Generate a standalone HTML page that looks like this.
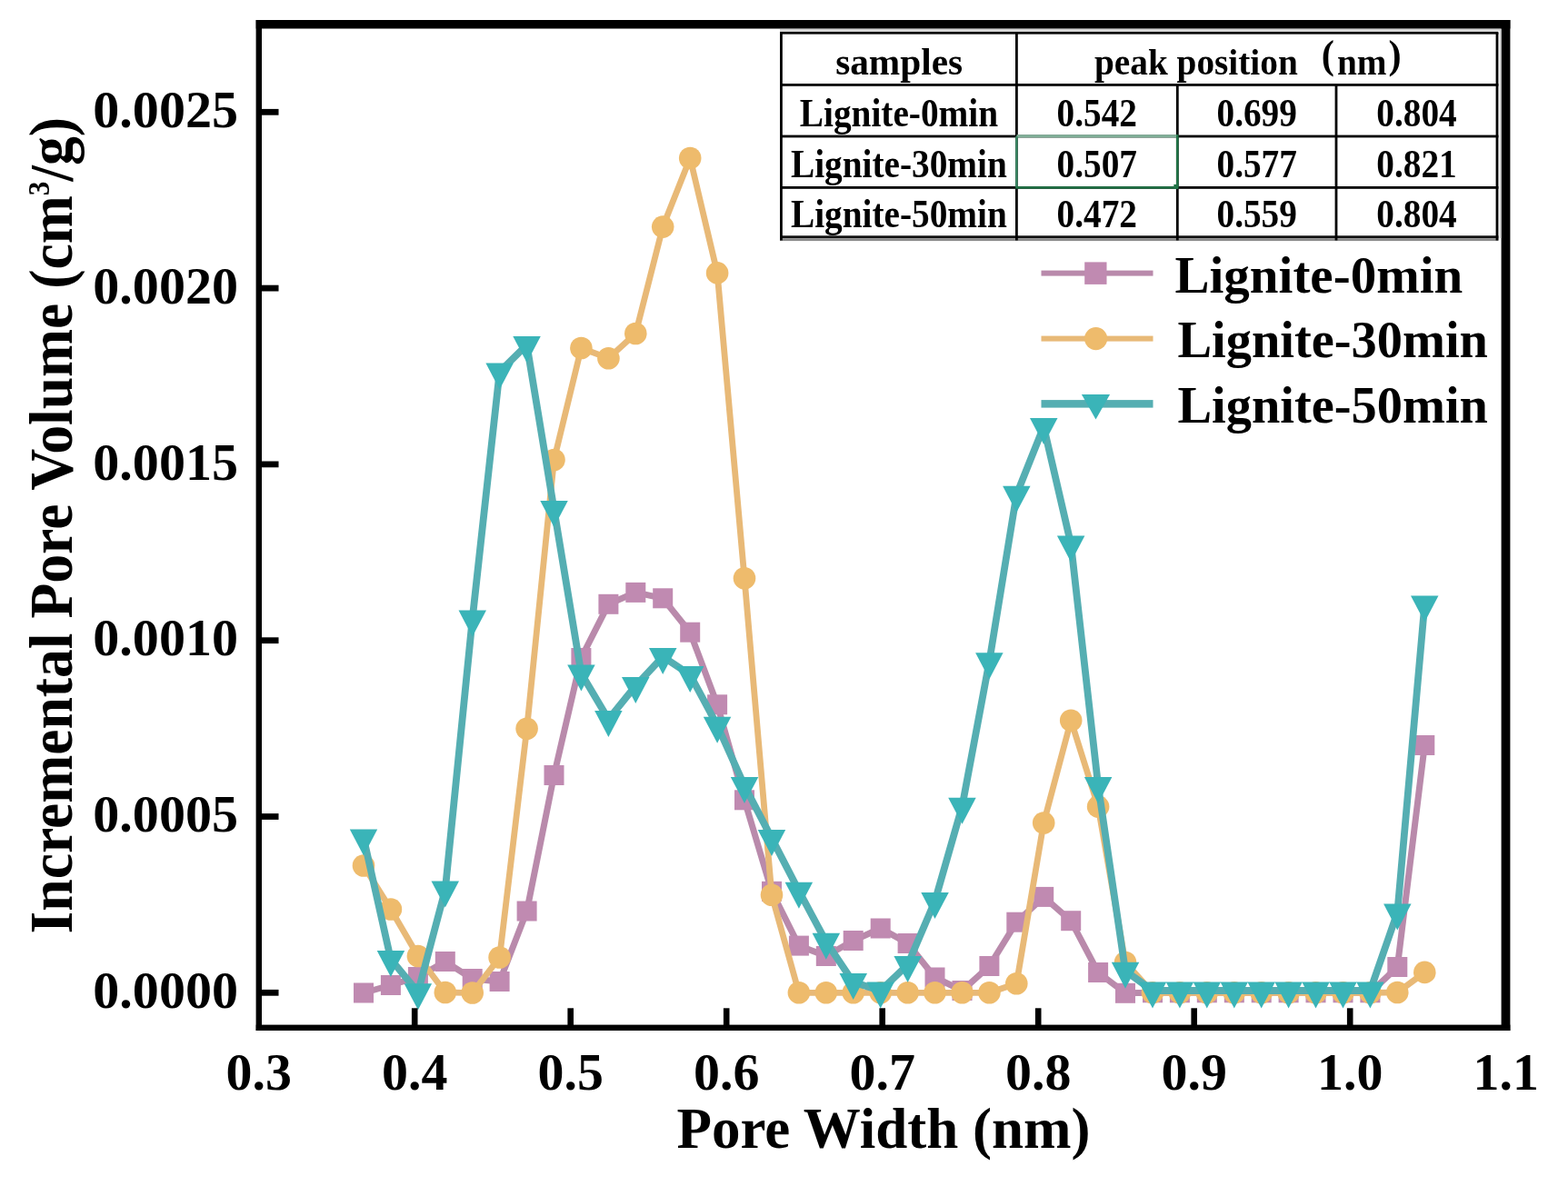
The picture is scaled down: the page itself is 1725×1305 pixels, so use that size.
<!DOCTYPE html>
<html><head><meta charset="utf-8"><title>Incremental Pore Volume vs Pore Width</title>
<style>html,body{margin:0;padding:0;background:#fff;}body{width:1725px;height:1305px;overflow:hidden;}svg{display:block;}</style>
</head><body>
<svg width="1725" height="1305" viewBox="0 0 1725 1305"><rect x="0" y="0" width="1725" height="1305" fill="#ffffff"/><polyline points="400.0,1092.5 429.9,1084.0 459.9,1075.0 489.8,1058.0 519.7,1077.0 549.6,1080.0 579.6,1002.5 609.5,853.0 639.4,724.0 669.4,664.8 699.3,651.9 729.2,658.3 759.2,695.7 789.1,775.3 819.0,880.3 849.0,980.8 878.9,1040.6 908.8,1052.0 938.7,1035.0 968.7,1021.5 998.6,1038.0 1028.5,1075.5 1058.5,1090.0 1088.4,1063.0 1118.3,1014.7 1148.2,986.9 1178.2,1013.2 1208.1,1070.0 1238.0,1092.8 1268.0,1092.3 1297.9,1092.3 1327.8,1092.3 1357.8,1092.3 1387.7,1092.3 1417.6,1092.3 1447.5,1092.3 1477.5,1092.3 1507.4,1092.3 1537.3,1064.0 1567.3,820.0" fill="none" stroke="#b98aab" stroke-width="7.0" stroke-linejoin="miter" stroke-miterlimit="3"/><g fill="#c08ab1"><rect x="389.0" y="1081.5" width="22.0" height="22.0"/><rect x="418.9" y="1073.0" width="22.0" height="22.0"/><rect x="448.9" y="1064.0" width="22.0" height="22.0"/><rect x="478.8" y="1047.0" width="22.0" height="22.0"/><rect x="508.7" y="1066.0" width="22.0" height="22.0"/><rect x="538.6" y="1069.0" width="22.0" height="22.0"/><rect x="568.6" y="991.5" width="22.0" height="22.0"/><rect x="598.5" y="842.0" width="22.0" height="22.0"/><rect x="628.4" y="713.0" width="22.0" height="22.0"/><rect x="658.4" y="653.8" width="22.0" height="22.0"/><rect x="688.3" y="640.9" width="22.0" height="22.0"/><rect x="718.2" y="647.3" width="22.0" height="22.0"/><rect x="748.2" y="684.7" width="22.0" height="22.0"/><rect x="778.1" y="764.3" width="22.0" height="22.0"/><rect x="808.0" y="869.3" width="22.0" height="22.0"/><rect x="838.0" y="969.8" width="22.0" height="22.0"/><rect x="867.9" y="1029.6" width="22.0" height="22.0"/><rect x="897.8" y="1041.0" width="22.0" height="22.0"/><rect x="927.7" y="1024.0" width="22.0" height="22.0"/><rect x="957.7" y="1010.5" width="22.0" height="22.0"/><rect x="987.6" y="1027.0" width="22.0" height="22.0"/><rect x="1017.5" y="1064.5" width="22.0" height="22.0"/><rect x="1047.5" y="1079.0" width="22.0" height="22.0"/><rect x="1077.4" y="1052.0" width="22.0" height="22.0"/><rect x="1107.3" y="1003.7" width="22.0" height="22.0"/><rect x="1137.2" y="975.9" width="22.0" height="22.0"/><rect x="1167.2" y="1002.2" width="22.0" height="22.0"/><rect x="1197.1" y="1059.0" width="22.0" height="22.0"/><rect x="1227.0" y="1081.8" width="22.0" height="22.0"/><rect x="1257.0" y="1081.3" width="22.0" height="22.0"/><rect x="1286.9" y="1081.3" width="22.0" height="22.0"/><rect x="1316.8" y="1081.3" width="22.0" height="22.0"/><rect x="1346.8" y="1081.3" width="22.0" height="22.0"/><rect x="1376.7" y="1081.3" width="22.0" height="22.0"/><rect x="1406.6" y="1081.3" width="22.0" height="22.0"/><rect x="1436.5" y="1081.3" width="22.0" height="22.0"/><rect x="1466.5" y="1081.3" width="22.0" height="22.0"/><rect x="1496.4" y="1081.3" width="22.0" height="22.0"/><rect x="1526.3" y="1053.0" width="22.0" height="22.0"/><rect x="1556.3" y="809.0" width="22.0" height="22.0"/></g><polyline points="400.0,952.5 429.9,1000.5 459.9,1052.0 489.8,1092.0 519.7,1092.5 549.6,1053.5 579.6,801.8 609.5,506.0 639.4,383.0 669.4,394.2 699.3,367.0 729.2,249.6 759.2,174.0 789.1,300.4 819.0,636.3 849.0,984.8 878.9,1092.3 908.8,1092.3 938.7,1092.3 968.7,1092.3 998.6,1092.3 1028.5,1092.3 1058.5,1092.3 1088.4,1092.3 1118.3,1082.2 1148.2,905.5 1178.2,792.7 1208.1,887.6 1238.0,1059.0 1268.0,1092.3 1297.9,1092.3 1327.8,1092.3 1357.8,1092.3 1387.7,1092.3 1417.6,1092.3 1447.5,1092.3 1477.5,1092.3 1507.4,1092.3 1537.3,1092.0 1567.3,1069.9" fill="none" stroke="#e8b977" stroke-width="6.8" stroke-linejoin="miter" stroke-miterlimit="3"/><g fill="#eebb6c"><circle cx="400.0" cy="952.5" r="12.3"/><circle cx="429.9" cy="1000.5" r="12.3"/><circle cx="459.9" cy="1052.0" r="12.3"/><circle cx="489.8" cy="1092.0" r="12.3"/><circle cx="519.7" cy="1092.5" r="12.3"/><circle cx="549.6" cy="1053.5" r="12.3"/><circle cx="579.6" cy="801.8" r="12.3"/><circle cx="609.5" cy="506.0" r="12.3"/><circle cx="639.4" cy="383.0" r="12.3"/><circle cx="669.4" cy="394.2" r="12.3"/><circle cx="699.3" cy="367.0" r="12.3"/><circle cx="729.2" cy="249.6" r="12.3"/><circle cx="759.2" cy="174.0" r="12.3"/><circle cx="789.1" cy="300.4" r="12.3"/><circle cx="819.0" cy="636.3" r="12.3"/><circle cx="849.0" cy="984.8" r="12.3"/><circle cx="878.9" cy="1092.3" r="12.3"/><circle cx="908.8" cy="1092.3" r="12.3"/><circle cx="938.7" cy="1092.3" r="12.3"/><circle cx="968.7" cy="1092.3" r="12.3"/><circle cx="998.6" cy="1092.3" r="12.3"/><circle cx="1028.5" cy="1092.3" r="12.3"/><circle cx="1058.5" cy="1092.3" r="12.3"/><circle cx="1088.4" cy="1092.3" r="12.3"/><circle cx="1118.3" cy="1082.2" r="12.3"/><circle cx="1148.2" cy="905.5" r="12.3"/><circle cx="1178.2" cy="792.7" r="12.3"/><circle cx="1208.1" cy="887.6" r="12.3"/><circle cx="1238.0" cy="1059.0" r="12.3"/><circle cx="1268.0" cy="1092.3" r="12.3"/><circle cx="1297.9" cy="1092.3" r="12.3"/><circle cx="1327.8" cy="1092.3" r="12.3"/><circle cx="1357.8" cy="1092.3" r="12.3"/><circle cx="1387.7" cy="1092.3" r="12.3"/><circle cx="1417.6" cy="1092.3" r="12.3"/><circle cx="1447.5" cy="1092.3" r="12.3"/><circle cx="1477.5" cy="1092.3" r="12.3"/><circle cx="1507.4" cy="1092.3" r="12.3"/><circle cx="1537.3" cy="1092.0" r="12.3"/><circle cx="1567.3" cy="1069.9" r="12.3"/></g><polyline points="400.0,922.0 429.9,1055.6 459.9,1091.7 489.8,979.0 519.7,681.0 549.6,409.0 579.6,379.5 609.5,560.5 639.4,741.0 669.4,791.4 699.3,754.5 729.2,722.6 759.2,742.5 789.1,798.2 819.0,864.5 849.0,922.4 878.9,980.3 908.8,1036.2 938.7,1080.6 968.7,1090.0 998.6,1061.5 1028.5,991.6 1058.5,887.2 1088.4,727.7 1118.3,544.2 1148.2,469.5 1178.2,599.0 1208.1,864.5 1238.0,1068.2 1268.0,1090.0 1297.9,1090.0 1327.8,1090.0 1357.8,1090.0 1387.7,1090.0 1417.6,1090.0 1447.5,1090.0 1477.5,1090.0 1507.4,1090.0 1537.3,1004.0 1567.3,665.0" fill="none" stroke="#55aeb2" stroke-width="7.8" stroke-linejoin="miter" stroke-miterlimit="3"/><g fill="#3ab4b8"><path d="M384.8 912.5H415.2L400.0 941.5Z"/><path d="M414.7 1046.1H445.2L429.9 1075.1Z"/><path d="M444.6 1082.2H475.1L459.9 1111.2Z"/><path d="M474.5 969.5H505.0L489.8 998.5Z"/><path d="M504.5 671.5H535.0L519.7 700.5Z"/><path d="M534.4 399.5H564.9L549.6 428.5Z"/><path d="M564.3 370.0H594.8L579.6 399.0Z"/><path d="M594.3 551.0H624.8L609.5 580.0Z"/><path d="M624.2 731.5H654.7L639.4 760.5Z"/><path d="M654.1 781.9H684.6L669.4 810.9Z"/><path d="M684.0 745.0H714.5L699.3 774.0Z"/><path d="M714.0 713.1H744.5L729.2 742.1Z"/><path d="M743.9 733.0H774.4L759.2 762.0Z"/><path d="M773.8 788.7H804.3L789.1 817.7Z"/><path d="M803.8 855.0H834.3L819.0 884.0Z"/><path d="M833.7 912.9H864.2L849.0 941.9Z"/><path d="M863.6 970.8H894.1L878.9 999.8Z"/><path d="M893.6 1026.7H924.1L908.8 1055.7Z"/><path d="M923.5 1071.1H954.0L938.7 1100.1Z"/><path d="M953.4 1080.5H983.9L968.7 1109.5Z"/><path d="M983.4 1052.0H1013.9L998.6 1081.0Z"/><path d="M1013.3 982.1H1043.8L1028.5 1011.1Z"/><path d="M1043.2 877.7H1073.7L1058.5 906.7Z"/><path d="M1073.1 718.2H1103.6L1088.4 747.2Z"/><path d="M1103.1 534.7H1133.6L1118.3 563.7Z"/><path d="M1133.0 460.0H1163.5L1148.2 489.0Z"/><path d="M1162.9 589.5H1193.4L1178.2 618.5Z"/><path d="M1192.9 855.0H1223.4L1208.1 884.0Z"/><path d="M1222.8 1058.7H1253.3L1238.0 1087.7Z"/><path d="M1252.7 1080.5H1283.2L1268.0 1109.5Z"/><path d="M1282.7 1080.5H1313.2L1297.9 1109.5Z"/><path d="M1312.6 1080.5H1343.1L1327.8 1109.5Z"/><path d="M1342.5 1080.5H1373.0L1357.8 1109.5Z"/><path d="M1372.4 1080.5H1402.9L1387.7 1109.5Z"/><path d="M1402.4 1080.5H1432.9L1417.6 1109.5Z"/><path d="M1432.3 1080.5H1462.8L1447.5 1109.5Z"/><path d="M1462.2 1080.5H1492.7L1477.5 1109.5Z"/><path d="M1492.2 1080.5H1522.7L1507.4 1109.5Z"/><path d="M1522.1 994.5H1552.6L1537.3 1023.5Z"/><path d="M1552.0 655.5H1582.5L1567.3 684.5Z"/></g><rect x="281.6" y="22.0" width="6.4" height="1112" fill="#000"/><rect x="1651.6" y="22.0" width="9.8" height="1112" fill="#000"/><rect x="281.7" y="22.0" width="1379.7" height="9.5" fill="#000"/><rect x="281.7" y="1127.6" width="1379.7" height="6.4" fill="#000"/><g fill="#000"><rect x="287" y="1088.9" width="19.5" height="6.8"/><rect x="287" y="895.1" width="19.5" height="6.8"/><rect x="287" y="701.3" width="19.5" height="6.8"/><rect x="287" y="507.5" width="19.5" height="6.8"/><rect x="287" y="313.7" width="19.5" height="6.8"/><rect x="287" y="119.9" width="19.5" height="6.8"/><rect x="452.9" y="1109.3" width="6.6" height="19"/><rect x="624.4" y="1109.3" width="6.6" height="19"/><rect x="795.9" y="1109.3" width="6.6" height="19"/><rect x="967.4" y="1109.3" width="6.6" height="19"/><rect x="1138.9" y="1109.3" width="6.6" height="19"/><rect x="1310.4" y="1109.3" width="6.6" height="19"/><rect x="1481.9" y="1109.3" width="6.6" height="19"/></g><g font-family="'Liberation Serif','Times New Roman',serif" font-weight="bold" font-size="56.5" fill="#000"><text transform="translate(262,1108.9) scale(1.028,1)" x="0" y="0" text-anchor="end">0.0000</text><text transform="translate(262,915.1) scale(1.028,1)" x="0" y="0" text-anchor="end">0.0005</text><text transform="translate(262,721.3) scale(1.028,1)" x="0" y="0" text-anchor="end">0.0010</text><text transform="translate(262,527.5) scale(1.028,1)" x="0" y="0" text-anchor="end">0.0015</text><text transform="translate(262,333.7) scale(1.028,1)" x="0" y="0" text-anchor="end">0.0020</text><text transform="translate(262,139.9) scale(1.028,1)" x="0" y="0" text-anchor="end">0.0025</text><text transform="translate(284.7,1199.3) scale(1.025,1)" x="0" y="0" text-anchor="middle">0.3</text><text transform="translate(456.2,1199.3) scale(1.025,1)" x="0" y="0" text-anchor="middle">0.4</text><text transform="translate(627.7,1199.3) scale(1.025,1)" x="0" y="0" text-anchor="middle">0.5</text><text transform="translate(799.2,1199.3) scale(1.025,1)" x="0" y="0" text-anchor="middle">0.6</text><text transform="translate(970.7,1199.3) scale(1.025,1)" x="0" y="0" text-anchor="middle">0.7</text><text transform="translate(1142.2,1199.3) scale(1.025,1)" x="0" y="0" text-anchor="middle">0.8</text><text transform="translate(1313.7,1199.3) scale(1.025,1)" x="0" y="0" text-anchor="middle">0.9</text><text transform="translate(1485.2,1199.3) scale(1.025,1)" x="0" y="0" text-anchor="middle">1.0</text><text transform="translate(1656.7,1199.3) scale(1.025,1)" x="0" y="0" text-anchor="middle">1.1</text></g><text x="972" y="1262.8" text-anchor="middle" font-family="'Liberation Serif','Times New Roman',serif" font-weight="bold" font-size="63" fill="#000">Pore Width (nm)</text><g transform="translate(79.3,1027.5) rotate(-90) scale(1.01,1.065)"><text x="0" y="0" font-family="'Liberation Serif','Times New Roman',serif" font-weight="bold" font-size="63" fill="#000">Incremental Pore Volume (cm<tspan font-size="31" dy="-24">3</tspan><tspan dy="24">/g)</tspan></text></g><rect x="1145.5" y="297.6" width="123" height="6.0" fill="#b98aab"/><rect x="1193.2" y="288.4" width="24.3" height="24.5" fill="#c08ab1"/><text x="1292.5" y="321.5" font-family="'Liberation Serif','Times New Roman',serif" font-weight="bold" font-size="57.0" fill="#000">Lignite-0min</text><rect x="1145.5" y="369.6" width="123" height="6.0" fill="#e8b977"/><circle cx="1205.6" cy="372.6" r="12.6" fill="#eebb6c"/><text x="1295.5" y="393.0" font-family="'Liberation Serif','Times New Roman',serif" font-weight="bold" font-size="56.4" fill="#000">Lignite-30min</text><rect x="1145.5" y="440.1" width="123" height="8.5" fill="#55aeb2"/><path d="M1189.9 434.1H1221.1L1205.5 461.4Z" fill="#3ab4b8"/><text x="1295.5" y="465.2" font-family="'Liberation Serif','Times New Roman',serif" font-weight="bold" font-size="56.4" fill="#000">Lignite-50min</text><rect x="859.4" y="36.2" width="787.6" height="225.3" fill="#ffffff"/><path d="M858.0 32.9H1650.6V262" fill="none" stroke="#d0d0d0" stroke-width="1.6"/><rect x="858.0" y="34.8" width="790.4" height="2.8" fill="#000"/><rect x="858.0" y="92.0" width="790.4" height="2.8" fill="#000"/><rect x="858.0" y="148.6" width="790.4" height="2.8" fill="#000"/><rect x="858.0" y="205.0" width="790.4" height="2.8" fill="#000"/><rect x="858.0" y="259.3" width="790.4" height="3.0" fill="#111"/><rect x="858.0" y="262.3" width="790.4" height="2.8" fill="#8a8a8a"/><rect x="858.0" y="36.2" width="2.8" height="228.3" fill="#000"/><rect x="1117.0" y="36.2" width="2.8" height="228.3" fill="#000"/><rect x="1293.9" y="93.4" width="2.8" height="171.1" fill="#000"/><rect x="1468.6" y="93.4" width="2.8" height="171.1" fill="#000"/><rect x="1645.6" y="36.2" width="2.8" height="228.3" fill="#000"/><rect x="1118.4" y="148.2" width="176.9" height="3.2" fill="#7fae97"/><rect x="1117.2" y="150.0" width="2.4" height="56.4" fill="#3f8f6a"/><rect x="1294.0" y="148.2" width="2.6" height="58.4" fill="#217346"/><rect x="1117.2" y="205.1" width="178.9" height="2.6" fill="#217346"/><rect x="1291.3" y="202.9" width="5" height="5" fill="#217346"/><g font-family="'Liberation Serif','Times New Roman',serif" font-weight="bold" font-size="39.3" fill="#000"><g transform="translate(989.1,81.7) scale(1,1.03)"><text x="0" y="0" text-anchor="middle" font-size="41.3">samples</text></g><g transform="translate(1204.0,81.5) scale(1,1.03)"><text x="0" y="0">peak position<tspan dx="26" dy="-6" font-size="42.5">(</tspan><tspan dx="3" dy="6">nm</tspan><tspan dx="2" dy="-6" font-size="42.5">)</tspan></text></g><g transform="translate(988.9,138.7) scale(1,1.130)"><text x="0" y="0" text-anchor="middle">Lignite-0min</text></g><g transform="translate(1206.8,138.7) scale(1,1.130)"><text x="0" y="0" text-anchor="middle">0.542</text></g><g transform="translate(1382.7,138.7) scale(1,1.130)"><text x="0" y="0" text-anchor="middle">0.699</text></g><g transform="translate(1558.5,138.7) scale(1,1.130)"><text x="0" y="0" text-anchor="middle">0.804</text></g><g transform="translate(988.9,194.5) scale(1,1.130)"><text x="0" y="0" text-anchor="middle">Lignite-30min</text></g><g transform="translate(1206.8,194.5) scale(1,1.130)"><text x="0" y="0" text-anchor="middle">0.507</text></g><g transform="translate(1382.7,194.5) scale(1,1.130)"><text x="0" y="0" text-anchor="middle">0.577</text></g><g transform="translate(1558.5,194.5) scale(1,1.130)"><text x="0" y="0" text-anchor="middle">0.821</text></g><g transform="translate(988.9,249.5) scale(1,1.130)"><text x="0" y="0" text-anchor="middle">Lignite-50min</text></g><g transform="translate(1206.8,249.5) scale(1,1.130)"><text x="0" y="0" text-anchor="middle">0.472</text></g><g transform="translate(1382.7,249.5) scale(1,1.130)"><text x="0" y="0" text-anchor="middle">0.559</text></g><g transform="translate(1558.5,249.5) scale(1,1.130)"><text x="0" y="0" text-anchor="middle">0.804</text></g></g></svg>
</body></html>
